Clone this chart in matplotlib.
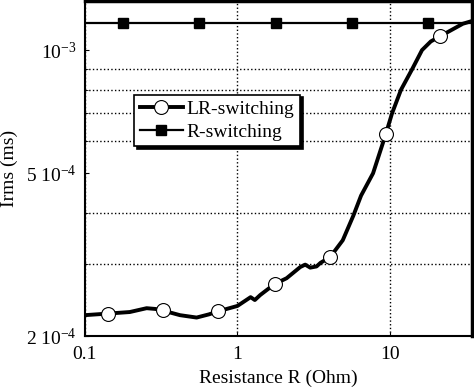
import numpy as np
import matplotlib
matplotlib.use('Agg')
import matplotlib.pyplot as plt
from matplotlib.ticker import FixedLocator, NullLocator

plt.rcParams['font.family'] = ['Liberation Serif', 'DejaVu Serif']
plt.rcParams['mathtext.fontset'] = 'custom'
plt.rcParams['mathtext.rm'] = 'Liberation Serif'
plt.rcParams['mathtext.it'] = 'Liberation Serif:italic'

# LR-switching curve
lr_r = [0.1, 0.141, 0.197, 0.254, 0.29, 0.324, 0.42, 0.54, 0.65, 0.75, 1.0, 1.22, 1.3,
        1.41, 1.75, 2.1, 2.58, 2.78, 3.0, 3.3, 3.5, 4.05, 4.9, 5.75, 6.46, 7.74,
        9.4, 10.3, 11.8, 14.0, 16.2, 18.5, 21.2, 30.0, 35.0]
lr_i = [2.25e-4, 2.27e-4, 2.29e-4, 2.34e-4, 2.33e-4, 2.31e-4, 2.25e-4, 2.22e-4, 2.26e-4,
        2.30e-4, 2.37e-4, 2.49e-4, 2.45e-4, 2.52e-4, 2.68e-4, 2.77e-4, 2.95e-4, 2.99e-4,
        2.94e-4, 2.96e-4, 3.02e-4, 3.12e-4, 3.43e-4, 3.94e-4, 4.41e-4, 5.0e-4,
        6.25e-4, 7.0e-4, 8.0e-4, 9.0e-4, 1.0e-3, 1.05e-3, 1.08e-3, 1.16e-3, 1.18e-3]
lr_marks = [1, 5, 9, 14, 21, 26, 32]

# R-switching (flat)
r_r = [0.1, 0.178, 0.562, 1.78, 5.62, 17.8, 35.0]
r_i = [1.166e-3] * 7
r_marks = [1, 2, 3, 4, 5]

fig = plt.figure(figsize=(4.74, 3.89), dpi=100)
ax = fig.add_axes([0.179, 0.136, 0.817, 0.862])

ax.plot(r_r, r_i, 'k-', lw=1.6, marker='s', ms=6.5, markevery=r_marks, label='R-switching')
ax.plot(lr_r, lr_i, 'k-', lw=2.8, marker='o', ms=10, mfc='white', mec='k', mew=0.8,
        markevery=lr_marks, label='LR-switching')

ax.set_xscale('log')
ax.set_yscale('log')
ax.set_xlim(0.1, 34.5)
ax.set_ylim(2e-4, 1.32e-3)

ax.set_xticks([0.1, 1, 10])
ax.set_xticklabels(['0.1', '1', '10'])
ax.xaxis.set_minor_locator(NullLocator())
ax.set_yticks([2e-4, 5e-4, 1e-3])
ax.set_yticklabels([r'$\mathregular{2\ 10^{-4}}$', r'$\mathregular{5\ 10^{-4}}$',
                    r'$\mathregular{10^{-3}}$'])
ax.yaxis.set_minor_locator(FixedLocator([3e-4, 4e-4, 5e-4, 6e-4, 7e-4, 8e-4, 9e-4]))
ax.yaxis.set_minor_formatter(plt.NullFormatter())

ax.tick_params(which='both', direction='in', labelsize=14)
ax.tick_params(which='major', length=3)
ax.tick_params(which='minor', length=2)
ax.tick_params(axis='x', pad=7)
ax.tick_params(axis='y', pad=6)
ax.grid(True, which='major', axis='x', ls=':', color='k', lw=1)
ax.grid(True, which='minor', axis='y', ls=':', color='k', lw=1)

for s in ax.spines.values():
    s.set_linewidth(1.5)
ax.spines['top'].set_linewidth(2.5)
ax.spines['right'].set_linewidth(2.5)

ax.set_xlabel('Resistance R (Ohm)', fontsize=14, labelpad=5)
ax.set_ylabel('Irms (ms)', fontsize=14, labelpad=6)

h, l = ax.get_legend_handles_labels()
leg = ax.legend(h[::-1], l[::-1], loc='upper left', bbox_to_anchor=(0.127, 0.72),
                borderaxespad=0, fontsize=14, fancybox=False, handlelength=2.2,
                handletextpad=0.2, borderpad=0.3, labelspacing=0.25, framealpha=1,
                shadow={'color': 'k', 'alpha': 1})
leg.get_frame().set_edgecolor('k')
leg.get_frame().set_linewidth(1.2)

fig.savefig('out.png', dpi=100)
